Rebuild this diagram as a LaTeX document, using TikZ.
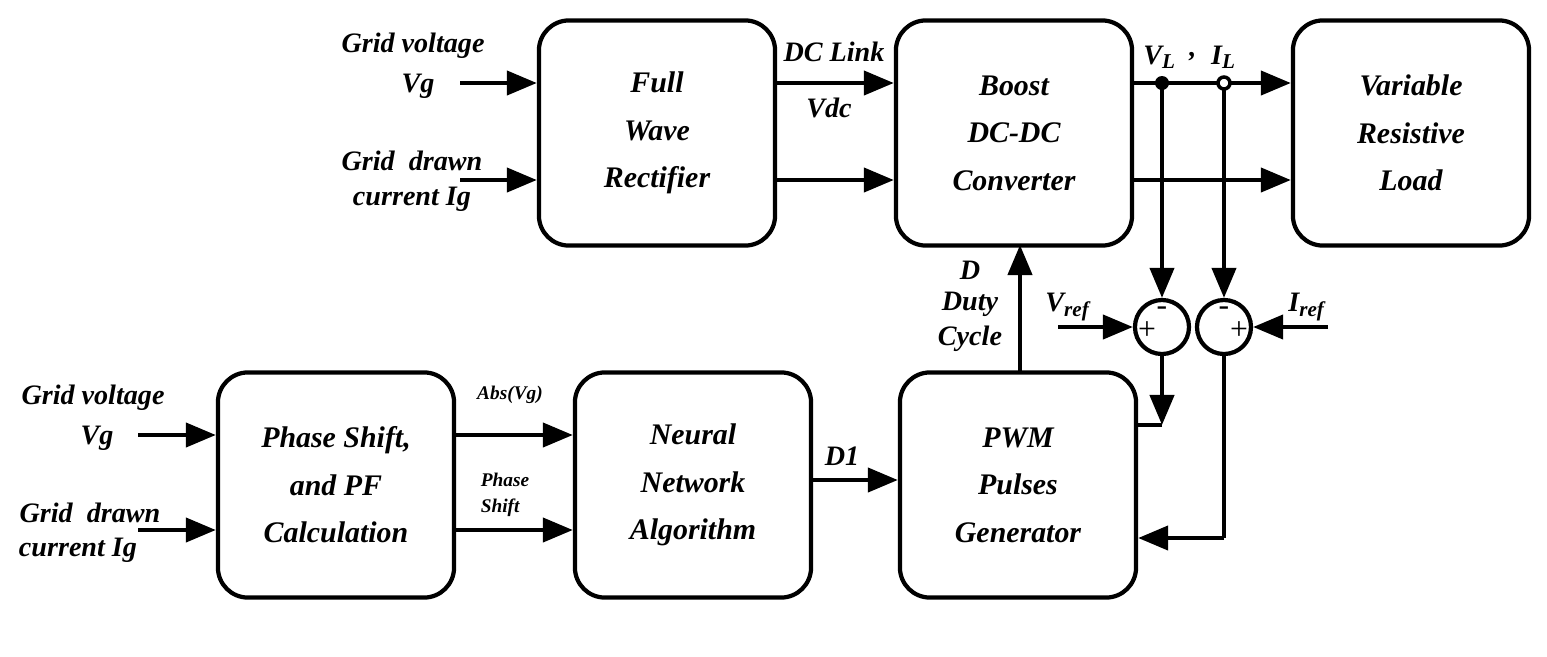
\documentclass[tikz,border=0pt]{standalone}
\usepackage{fontspec}
\setmainfont{Liberation Serif}
\usetikzlibrary{arrows.meta}
\begin{document}
\begin{tikzpicture}[x=0.01cm,y=-0.01cm,line width=1.2pt,
 blk/.style={draw,rounded corners=0.3cm,minimum width=2.36cm,minimum height=2.25cm,align=center,font=\fontsize{8.5}{13.5}\selectfont\bfseries\itshape},
 lab/.style={align=center,font=\fontsize{8}{11}\selectfont\bfseries\itshape,inner sep=1pt},
 sml/.style={align=left,font=\fontsize{5.5}{7.5}\selectfont\bfseries\itshape,inner sep=1pt},
 ar/.style={-{Triangle[length=0.3cm,width=0.24cm]}},
 sum/.style={draw,circle,minimum size=0.54cm,inner sep=0pt}]
\useasboundingbox (0,0) rectangle (1547,657);
\node[blk] (fwr) at (657,133) {Full\\Wave\\Rectifier};
\node[blk] (bst) at (1014,133) {Boost\\DC-DC\\Converter};
\node[blk] (ld) at (1411,133) {Variable\\Resistive\\Load};
\node[blk] (ph) at (336,485) {Phase Shift,\\and PF\\Calculation};
\node[blk] (nn) at (693,485) {Neural\\Network\\Algorithm};
\node[blk] (pwm) at (1018,485) {PWM\\Pulses\\Generator};
\node[sum] (s1) at (1162,327) {};
\node[sum] (s2) at (1224,327) {};
\node[font=\small] at (1147,331) {+};
\node[font=\small] at (1162,311) {-};
\node[font=\small] at (1224,311) {-};
\node[font=\small] at (1239,331) {+};
% top inputs
\node[lab] at (413,46) {Grid voltage};
\node[lab] at (418,86) {Vg};
\node[lab] at (412,161) {Grid\ \ drawn};
\node[lab] at (412,199) {current Ig};
\coordinate (a1) at (460,83); \coordinate (a2) at (460,180);
\draw[ar] (a1) -- (a1-|fwr.west);
\draw[ar] (a2) -- (a2-|fwr.west);
\draw[ar] (fwr.east|-a1) -- (bst.west|-a1);
\draw[ar] (fwr.east|-a2) -- (bst.west|-a2);
\node[lab] at (834,52) {DC Link};
\node[lab] at (829,108) {Vdc};
\draw[ar] (bst.east|-a1) -- (ld.west|-a1);
\draw[ar] (bst.east|-a2) -- (ld.west|-a2);
\coordinate (d1) at (1162,83); \coordinate (d2) at (1224,83);
\draw[ar] (d1) -- (s1.north);
\draw[ar] (d2) -- (s2.north);
\fill (d1) circle (0.07cm);
\draw[fill=white,line width=1pt] (d2) circle (0.06cm);
\node[lab] at (1160,57) {V\textsubscript{L}};
\node[lab] at (1193,57) {,};
\node[lab] at (1224,57) {I\textsubscript{L}};
\coordinate (vr) at (1058,327); \coordinate (ir) at (1328,327);
\draw[ar] (vr) -- (s1.west);
\draw[ar] (ir) -- (s2.east);
\node[lab] at (1068,307) {V\textsubscript{\itshape ref}};
\node[lab] at (1307,307) {I\textsubscript{\itshape ref}};
\coordinate (p1) at (1162,425);
\draw[ar] (s1.south) -- (p1);
\draw (p1) -- (p1-|pwm.east);
\coordinate (p2) at (1224,538);
\draw (s2.south) -- (p2);
\draw[ar] (p2) -- (p2-|pwm.east);
\draw[ar] (1020,372) -- (1020,245);
\node[lab] at (970,270) {D};
\node[lab] at (970,304) {Duty};
\node[lab] at (970,339) {Cycle};
% bottom
\node[lab] at (93,398) {Grid voltage};
\node[lab] at (97,438) {Vg};
\node[lab] at (90,513) {Grid\ \ drawn};
\node[lab] at (78,550) {current Ig};
\coordinate (b1) at (138,435); \coordinate (b2) at (138,530);
\draw[ar] (b1) -- (b1-|ph.west);
\draw[ar] (b2) -- (b2-|ph.west);
\draw[ar] (ph.east|-b1) -- (nn.west|-b1);
\draw[ar] (ph.east|-b2) -- (nn.west|-b2);
\node[sml] at (510,395) {Abs(Vg)};
\node[sml] at (505,495) {Phase\\Shift};
\coordinate (c1) at (812,480);
\draw[ar] (c1) -- (c1-|pwm.west);
\node[lab] at (842,456) {D1};
\end{tikzpicture}
\end{document}
